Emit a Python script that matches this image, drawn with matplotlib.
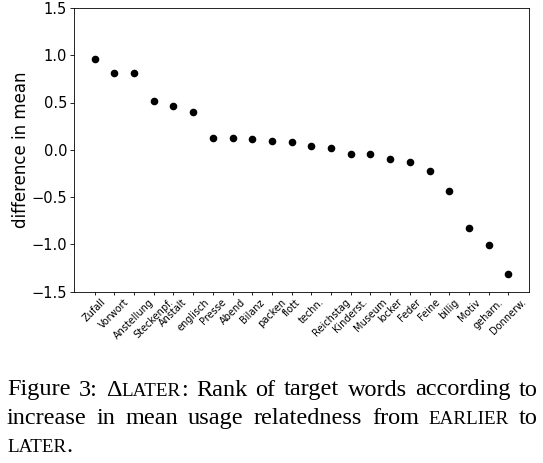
import matplotlib
matplotlib.use("Agg")
import matplotlib.pyplot as plt

words = ["Zufall", "Vorwort", "Anstellung", "Steckenpf.", "Anstalt", "englisch",
         "Presse", "Abend", "Bilanz", "packen", "flott", "techn.", "Reichstag",
         "Kinderst.", "Museum", "locker", "Feder", "Feine", "billig", "Motiv",
         "geharn.", "Donnerw."]
diff_mean = [0.96, 0.81, 0.81, 0.52, 0.46, 0.40, 0.12, 0.12, 0.11, 0.095,
             0.08, 0.04, 0.02, -0.04, -0.04, -0.10, -0.13, -0.23, -0.44,
             -0.83, -1.01, -1.31]
yticks = [-1.5, -1.0, -0.5, 0.0, 0.5, 1.0, 1.5]

W, H = 543, 463
fig = plt.figure(figsize=(W / 100, H / 100), dpi=100)
ax = fig.add_axes([74 / W, 1 - 291.5 / H, 455 / W, 283.5 / H])
ax.scatter(range(len(words)), diff_mean, s=20, color="black", zorder=3)
ax.set_ylim(-1.5, 1.5)
ax.set_yticks(yticks)
ax.set_xticks(range(len(words)))
ax.set_xticklabels(words, rotation=45, fontsize=7)
ax.tick_params(axis="y", labelsize=10.5, length=3, width=0.6, pad=2)
ax.tick_params(axis="x", length=2.5, width=0.6, pad=1.5)
for s in ax.spines.values():
    s.set_linewidth(0.6)
ax.set_ylabel("difference in mean", fontsize=12, labelpad=1)

# caption (justified, with small caps)
FS = 17.5
SC = FS * 0.78
fam = "Liberation Serif"
line1 = [[("Figure", FS)], [("3:", FS)], [("Δ", FS), ("LATER", SC), (":", FS)],
         [("Rank", FS)], [("of", FS)], [("target", FS)], [("words", FS)],
         [("according", FS)], [("to", FS)]]
line2 = [[("increase", FS)], [("in", FS)], [("mean", FS)], [("usage", FS)],
         [("relatedness", FS)], [("from", FS)], [("EARLIER", SC)], [("to", FS)]]
line3 = [[("LATER", SC), (".", FS)]]

fig.canvas.draw()
renderer = fig.canvas.get_renderer()


def piece_width(txt, size):
    t = fig.text(0, 0, txt, fontsize=size, family=fam)
    w = t.get_window_extent(renderer).width
    t.remove()
    return w


def draw_line(line, base_y, x0, x1, justify=True):
    widths = [[piece_width(t, s) for t, s in w] for w in line]
    totals = [sum(w) for w in widths]
    if justify and len(line) > 1:
        gap = (x1 - x0 - sum(totals)) / (len(line) - 1)
    else:
        gap = piece_width(" ", FS)
    x = x0
    for word, ws, tot in zip(line, widths, totals):
        xx = x
        for (t, s), w in zip(word, ws):
            fig.text(xx / W, (H - base_y) / H, t, fontsize=s, family=fam,
                     va="baseline", ha="left")
            xx += w
        x += tot + gap


draw_line(line1, 395.5, 7, 538)
draw_line(line2, 424, 7, 538)
draw_line(line3, 452.5, 7, 538, justify=False)

fig.savefig("out.png", dpi=100)
